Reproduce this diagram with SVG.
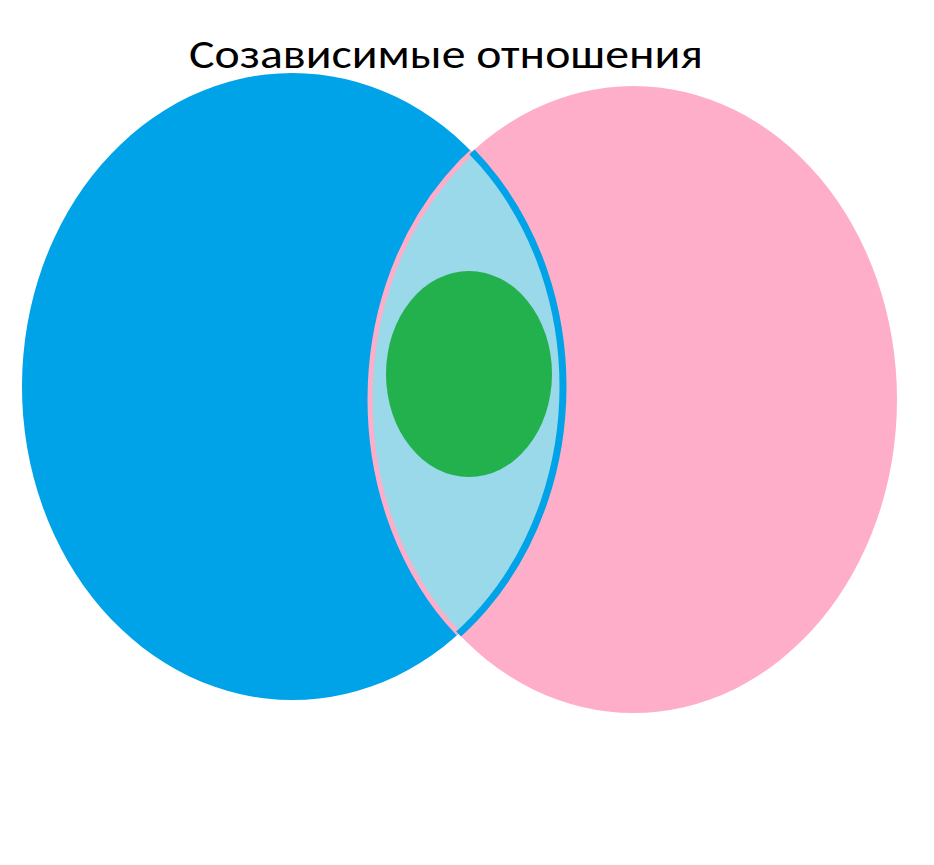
<svg xmlns="http://www.w3.org/2000/svg" width="934" height="865" viewBox="0 0 934 865">
<defs>
<style>
.title{font-family:Carlito,"Open Sans","Noto Sans","Liberation Sans",sans-serif;font-size:42px;fill:#000}
</style>
<clipPath id="clipBlue"><ellipse cx="292.5" cy="386.5" rx="270.5" ry="313.5"/></clipPath>
<clipPath id="clipPink"><ellipse cx="633.5" cy="399.5" rx="263.5" ry="313.5"/></clipPath>
</defs>
<rect width="934" height="865" fill="#fff"/>
<text class="title" x="446" y="68" text-anchor="middle" textLength="514" lengthAdjust="spacingAndGlyphs">Созависимые отношения</text>
<g id="blue-set">
<ellipse cx="292.5" cy="386.5" rx="270.5" ry="313.5" fill="#00A2E8"/>
</g>
<g id="pink-set">
<ellipse cx="633.5" cy="399.5" rx="263.5" ry="313.5" fill="#FFAEC9"/>
</g>
<g id="intersection">
<ellipse cx="633.5" cy="399.5" rx="263.5" ry="313.5" fill="#99D9EA" clip-path="url(#clipBlue)"/>
<ellipse cx="633.5" cy="399.5" rx="263.5" ry="313.5" fill="none" stroke="#FFAEC9" stroke-width="5" clip-path="url(#clipBlue)"/>
<ellipse cx="292.5" cy="386.5" rx="270.5" ry="313.5" fill="none" stroke="#00A2E8" stroke-width="7" clip-path="url(#clipPink)"/>
</g>
<g id="green-core">
<ellipse cx="469" cy="374" rx="83" ry="103" fill="#22B14C"/>
</g>
</svg>
